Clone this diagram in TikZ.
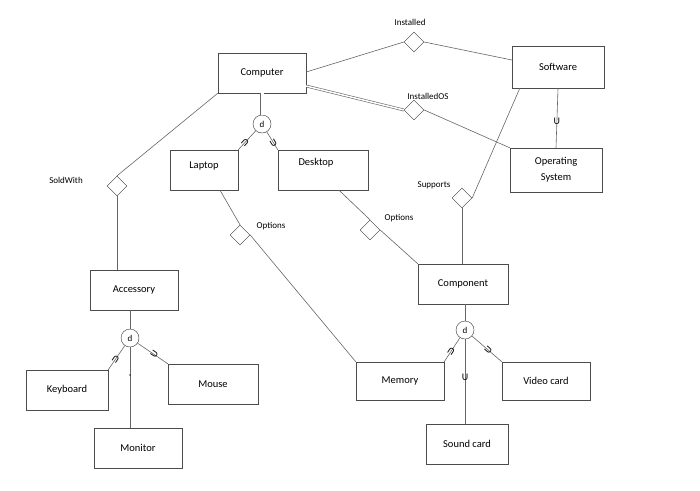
\documentclass[tikz,border=0pt]{standalone}
\usepackage{fontspec}
\setmainfont{Carlito}
\usetikzlibrary{shapes.geometric}
\begin{document}
\begin{tikzpicture}[x=1pt,y=-1pt,
  ent/.style={draw=black!70,minimum width=88pt,minimum height=40pt,font=\fontsize{10.5}{12}\selectfont,inner sep=1pt,align=center},
  rel/.style={draw=black!80,diamond,minimum size=20pt,inner sep=0pt},
  dis/.style={draw=black!80,circle,minimum size=18pt,inner sep=0pt,font=\fontsize{9}{10}\selectfont},
  lab/.style={font=\fontsize{9}{10}\selectfont},
  ln/.style={draw=black!60,line width=0.6pt},
  sub/.style={font=\fontsize{10}{10}\selectfont,sloped,rotate=90}]
\fill[white] (0,0) rectangle (700,490);
\useasboundingbox (0,0) rectangle (700,490);
% entities
\node[ent] (comp) at (262,73) {Computer};
\node[ent,minimum width=92pt,minimum height=42pt] (soft) at (558,67) {Software};
\node[ent,minimum width=68pt] (lap) at (204,170) {};
\node[font=\fontsize{10.5}{12}\selectfont] at (204,166) {Laptop};
\node[ent,minimum width=90pt] (desk) at (323,170) {};
\node[font=\fontsize{10.5}{12}\selectfont] at (316,163) {Desktop};
\node[ent,minimum width=92pt,minimum height=44pt] (os) at (556,170) {Operating\\[4pt]System};
\node[ent] (acc) at (134,290) {Accessory};
\node[ent,minimum width=90pt] (cmp) at (463,284) {Component};
\node[ent,minimum width=82pt] (kb) at (67,390) {Keyboard};
\node[ent,minimum width=90pt] (mouse) at (213,384) {Mouse};
\node[ent] (mon) at (138,448) {Monitor};
\node[ent,minimum width=88pt,minimum height=38pt] (mem) at (400,381) {Memory};
\node[ent,minimum width=88pt,minimum height=38pt] (vid) at (546,381) {Video card};
\node[ent,minimum width=82pt] (snd) at (467,444) {Sound card};
% relationships
\node[rel] (inst) at (414,42) {};
\node[lab] at (410,22) {Installed};
\node[rel] (instos) at (414,110) {};
\node[lab] at (428,96) {InstalledOS};
\node[rel] (sold) at (117,186) {};
\node[lab] at (66,180) {SoldWith};
\node[rel] (opt1) at (240,235) {};
\node[lab] at (271,226) {Options};
\node[rel] (opt2) at (370,230) {};
\node[lab] at (399,218) {Options};
\node[rel] (sup) at (462,198) {};
\node[lab] at (434,185) {Supports};
% disjoint
\node[dis] (d1) at (262,124) {d};
\node[dis] (d2) at (130,338) {d};
\node[dis] (d3) at (465,330) {d};
% connectors
\draw[ln] (comp.east |- 0,72) -- (inst.west);
\draw[ln] (inst.east) -- (soft.west |- 0,60);
\draw[ln,double,double distance=1.5pt] (comp.east |- 0,86) -- (instos.west);
\draw[ln] (instos.east) -- (os.north west);
\draw[ln] (comp.south west) -- (sold.north);
\draw[ln] (sold.south) -- (acc.north -| sold);
\draw[ln,double,double distance=3pt] (comp.south) -- (d1.north);
\draw[ln] (d1) -- node[sub,pos=0.6]{U} (lap.north east);
\draw[ln] (d1) -- node[sub,pos=0.6]{U} (desk.north west);
\draw[ln] (lap.south) ++(16,0) coordinate (l1) (l1) -- (opt1.north);
\draw[ln] (opt1.east) -- (mem.north west);
\draw[ln] (desk.south) ++(16,0) coordinate (dd) (dd) -- (opt2.north);
\draw[ln] (opt2.east) -- (cmp.north west);
\draw[ln] (soft.south west) ++(8,0) coordinate (s1) (s1) -- (sup.east);
\draw[ln] (sup.south) -- (cmp.north -| sup);
\draw[ln] (soft.south) -- node[pos=0.55,font=\fontsize{10}{10}\selectfont]{U} (os.north);
\draw[ln] (acc.south -| d2) -- (d2.north);
\draw[ln] (d2) -- node[sub,pos=0.55]{U} (kb.north east);
\draw[ln] (d2) -- node[sub,pos=0.55]{U} (mouse.north west);
\draw[ln] (d2.south) -- node[pos=0.35,font=\tiny]{\textbf{,,}} (mon.north -| d2);
\draw[ln] (cmp.south -| d3) -- (d3.north);
\draw[ln] (d3) -- node[sub,pos=0.55]{U} (mem.north east);
\draw[ln] (d3) -- node[sub,pos=0.55]{U} (vid.north west);
\draw[ln] (d3.south) -- node[pos=0.45,font=\fontsize{10}{10}\selectfont]{U} (snd.north -| d3);
\end{tikzpicture}
\end{document}
